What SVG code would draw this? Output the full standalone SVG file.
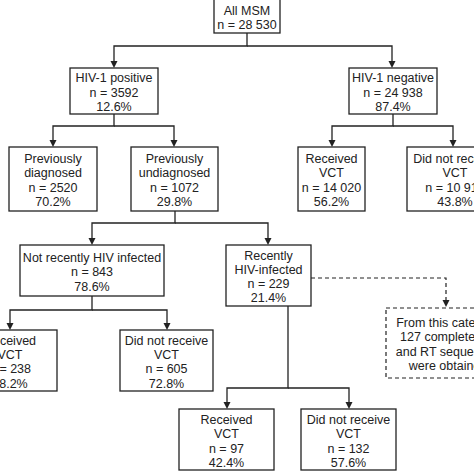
<svg xmlns="http://www.w3.org/2000/svg" width="474" height="474" viewBox="0 0 474 474">
<defs>
<style>
.box{fill:#fff;stroke:#222;stroke-width:1.3}
.dbox{fill:#fff;stroke:#222;stroke-width:1.2;stroke-dasharray:4 3}
.t{font-family:"Liberation Sans",Arial,sans-serif;font-size:12.5px;fill:#222;text-anchor:middle}
.c{fill:none;stroke:#222;stroke-width:1.3}
.cd{fill:none;stroke:#222;stroke-width:1.2;stroke-dasharray:4 3}
.ah{fill:#222}
</style>
</defs>
<rect width="474" height="474" fill="#fff"/>
<g id="connectors">
<path class="c" d="M247,33 V46 H114 V62"/>
<path class="c" d="M247,46 H392 V62"/>
<path class="c" d="M114,114 V126 H53 V141"/>
<path class="c" d="M114,126 H174 V141"/>
<path class="c" d="M393,114 V126 H332 V141"/>
<path class="c" d="M393,126 H453 V141"/>
<path class="c" d="M175,211 V223 H92 V239"/>
<path class="c" d="M175,223 H268 V239"/>
<path class="c" d="M92,296 V310 H10 V324"/>
<path class="c" d="M92,310 H167 V324"/>
<path class="c" d="M288,306 V388 H227 V403"/>
<path class="c" d="M288,388 H349 V403"/>
<path class="cd" d="M311,278 H446 V300"/>
<path class="ah" d="M110.5,61 L117.5,61 L114,68 Z"/>
<path class="ah" d="M388.5,61 L395.5,61 L392,68 Z"/>
<path class="ah" d="M49.5,140 L56.5,140 L53,147 Z"/>
<path class="ah" d="M170.5,140 L177.5,140 L174,147 Z"/>
<path class="ah" d="M328.5,140 L335.5,140 L332,147 Z"/>
<path class="ah" d="M449.5,140 L456.5,140 L453,147 Z"/>
<path class="ah" d="M88.5,238 L95.5,238 L92,245 Z"/>
<path class="ah" d="M264.5,238 L271.5,238 L268,245 Z"/>
<path class="ah" d="M6.5,323 L13.5,323 L10,330 Z"/>
<path class="ah" d="M163.5,323 L170.5,323 L167,330 Z"/>
<path class="ah" d="M223.5,402 L230.5,402 L227,409 Z"/>
<path class="ah" d="M345.5,402 L352.5,402 L349,409 Z"/>
<path class="ah" d="M442.5,300 L449.5,300 L446,307 Z"/>
</g>
<g id="all">
<rect class="box" x="214" y="-1" width="66" height="34"/>
<text class="t" x="247" y="15">All MSM</text>
<text class="t" x="247" y="28.5">n = 28 530</text>
</g>
<g id="pos">
<rect class="box" x="70" y="68" width="88" height="46"/>
<text class="t" x="114" y="81.5">HIV-1 positive</text>
<text class="t" x="114" y="96.5">n = 3592</text>
<text class="t" x="114" y="111">12.6%</text>
</g>
<g id="neg">
<rect class="box" x="349" y="68" width="88" height="46"/>
<text class="t" x="393" y="81.5">HIV-1 negative</text>
<text class="t" x="393" y="96.5">n = 24 938</text>
<text class="t" x="393" y="111">87.4%</text>
</g>
<g id="prevdiag">
<rect class="box" x="9" y="147" width="88" height="64"/>
<text class="t" x="53" y="162.5">Previously</text>
<text class="t" x="53" y="177">diagnosed</text>
<text class="t" x="53" y="191.5">n = 2520</text>
<text class="t" x="53" y="206">70.2%</text>
</g>
<g id="prevundiag">
<rect class="box" x="131" y="147" width="87" height="64"/>
<text class="t" x="174.5" y="162.5">Previously</text>
<text class="t" x="174.5" y="177">undiagnosed</text>
<text class="t" x="174.5" y="191.5">n = 1072</text>
<text class="t" x="174.5" y="206">29.8%</text>
</g>
<g id="negvct">
<rect class="box" x="298" y="147" width="67" height="64"/>
<text class="t" x="331.5" y="162.5">Received</text>
<text class="t" x="331.5" y="177">VCT</text>
<text class="t" x="331.5" y="191.5">n = 14 020</text>
<text class="t" x="331.5" y="206">56.2%</text>
</g>
<g id="negnovct">
<rect class="box" x="407" y="147" width="96" height="64"/>
<text class="t" x="455" y="162.5">Did not receive</text>
<text class="t" x="455" y="177">VCT</text>
<text class="t" x="455" y="191.5">n = 10 910</text>
<text class="t" x="455" y="206">43.8%</text>
</g>
<g id="notrecent">
<rect class="box" x="20" y="245" width="144" height="51"/>
<text class="t" x="92" y="261.5">Not recently HIV infected</text>
<text class="t" x="92" y="276">n = 843</text>
<text class="t" x="92" y="290.5">78.6%</text>
</g>
<g id="recent">
<rect class="box" x="226" y="245" width="85" height="61"/>
<text class="t" x="268.5" y="259.5">Recently</text>
<text class="t" x="268.5" y="274">HIV-infected</text>
<text class="t" x="268.5" y="288">n = 229</text>
<text class="t" x="268.5" y="302">21.4%</text>
</g>
<g id="nrvct">
<rect class="box" x="-37" y="330" width="94" height="61"/>
<text class="t" x="10" y="344.5">Received</text>
<text class="t" x="10" y="358.5">VCT</text>
<text class="t" x="10" y="373">n = 238</text>
<text class="t" x="10" y="387.5">28.2%</text>
</g>
<g id="nrnovct">
<rect class="box" x="120" y="330" width="93" height="61"/>
<text class="t" x="166.5" y="344.5">Did not receive</text>
<text class="t" x="166.5" y="358.5">VCT</text>
<text class="t" x="166.5" y="373">n = 605</text>
<text class="t" x="166.5" y="387.5">72.8%</text>
</g>
<g id="rvct">
<rect class="box" x="179" y="409" width="95" height="61"/>
<text class="t" x="226.5" y="423.5">Received</text>
<text class="t" x="226.5" y="438">VCT</text>
<text class="t" x="226.5" y="452.5">n = 97</text>
<text class="t" x="226.5" y="466.5">42.4%</text>
</g>
<g id="rnovct">
<rect class="box" x="301" y="409" width="95" height="61"/>
<text class="t" x="348.5" y="423.5">Did not receive</text>
<text class="t" x="348.5" y="438">VCT</text>
<text class="t" x="348.5" y="452.5">n = 132</text>
<text class="t" x="348.5" y="466.5">57.6%</text>
</g>
<g id="note">
<rect class="dbox" x="386" y="308" width="122" height="70"/>
<text class="t" x="448" y="326.5">From this category</text>
<text class="t" x="448" y="341">127 complete PR</text>
<text class="t" x="448" y="355.5">and RT sequences</text>
<text class="t" x="448" y="370">were obtained</text>
</g>
</svg>
